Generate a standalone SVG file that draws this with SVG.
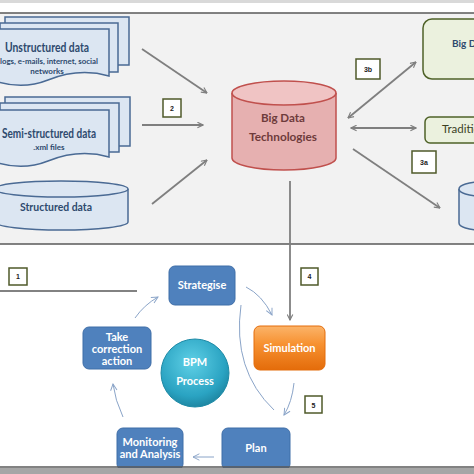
<svg xmlns="http://www.w3.org/2000/svg" width="474" height="474" viewBox="0 0 474 474">
<defs>
<style>
.t{font-family:Lato,"Liberation Sans",sans-serif;font-weight:bold;text-anchor:middle}
.doc{fill:#dce6f2;stroke:#4a6a94;stroke-width:1.5}
.lbl{fill:#ffffff;stroke:#4f5a2a;stroke-width:1.5}
.lt{font-family:"Liberation Sans",sans-serif;font-weight:bold;font-size:7px;text-anchor:middle;fill:#222}
.con{stroke:#7f7f7f;stroke-width:1.8;fill:none}
.cyc{stroke:#8aa4c8;stroke-width:1;fill:none}
.box{fill:#4f81bd;stroke:#3f6ea8;stroke-width:1}
.wt{fill:#ffffff;font-size:11px}
</style>
<marker id="ah" viewBox="0 0 10 10" refX="9" refY="5" markerWidth="7" markerHeight="7" orient="auto-start-reverse" markerUnits="userSpaceOnUse">
<path d="M1 1 L9 5 L1 9" fill="none" stroke="#7f7f7f" stroke-width="1.6"/>
</marker>
<marker id="bh" viewBox="0 0 10 10" refX="9" refY="5" markerWidth="8" markerHeight="8" orient="auto" markerUnits="userSpaceOnUse">
<path d="M1 1 L9 5 L1 9" fill="none" stroke="#8aa4c8" stroke-width="1.2"/>
</marker>
<linearGradient id="og" x1="0" y1="0" x2="0" y2="1">
<stop offset="0" stop-color="#fbb46a"/>
<stop offset="0.4" stop-color="#f79232"/>
<stop offset="1" stop-color="#e46c0a"/>
</linearGradient>
<radialGradient id="tg" cx="0.45" cy="0.35" r="0.7">
<stop offset="0" stop-color="#5fd0e6"/>
<stop offset="0.7" stop-color="#2aa3c2"/>
<stop offset="1" stop-color="#1b7f9a"/>
</radialGradient>
</defs>
<rect width="474" height="474" fill="#ffffff"/>
<rect x="0" y="0" width="474" height="3" fill="#d9d9d9"/>
<rect x="0" y="13" width="474" height="231" fill="#f2f2f2"/>
<line x1="0" y1="13" x2="474" y2="13" stroke="#595959" stroke-width="1.5"/>
<line x1="0" y1="244" x2="474" y2="244" stroke="#595959" stroke-width="1.5"/>

<g id="unstructured">
<rect class="doc" x="5" y="17" width="124" height="48"/>
<rect class="doc" x="0" y="23" width="118" height="49"/>
<path class="doc" d="M-5 29 H109 V76 C88 70 68 72 48 80 C28 88 10 86 -5 81 Z"/>
<text class="t" x="47" y="52" font-size="12.500" fill="#2e4a6e" textLength="84" lengthAdjust="spacingAndGlyphs">Unstructured data</text>
<text class="t" x="49" y="64" font-size="8" fill="#2e4a6e" font-weight="normal" textLength="98" lengthAdjust="spacingAndGlyphs">logs, e-mails, internet, social</text>
<text class="t" x="47" y="74" font-size="8" fill="#2e4a6e" font-weight="normal">networks</text>
</g>
<g id="semistructured">
<rect class="doc" x="5" y="97" width="125" height="49"/>
<rect class="doc" x="0" y="103" width="119" height="49"/>
<path class="doc" d="M-5 110 H109 V157 C88 151 68 153 48 161 C28 169 10 167 -5 162 Z"/>
<text class="t" x="49" y="138" font-size="12.500" fill="#2e4a6e" textLength="94" lengthAdjust="spacingAndGlyphs">Semi-structured data</text>
<text class="t" x="49" y="150" font-size="8" fill="#2e4a6e" font-weight="normal">.xml files</text>
</g>
<g id="structured">
<path class="doc" d="M-5 189 V222 A66 8 0 0 0 128 222 V189"/>
<ellipse class="doc" cx="61" cy="189" rx="67" ry="8"/>
<text class="t" x="56" y="211" font-size="12" fill="#2e4a6e" textLength="72" lengthAdjust="spacingAndGlyphs">Structured data</text>
</g>

<g id="bigdata">
<path d="M232 93 V158 A52 12 0 0 0 336 158 V93" fill="#e6b0b0" stroke="#c0504d" stroke-width="1.5"/>
<ellipse cx="284" cy="93" rx="52" ry="12" fill="#f0c4c4" stroke="#c0504d" stroke-width="1.5"/>
<text class="t" x="283" y="122" font-size="12" fill="#6e3b3b" textLength="44" lengthAdjust="spacingAndGlyphs">Big Data</text>
<text class="t" x="283" y="141" font-size="12" fill="#6e3b3b" textLength="68" lengthAdjust="spacingAndGlyphs">Technologies</text>
</g>

<g id="bigdbox">
<rect x="423" y="19" width="80" height="60" rx="9" fill="#ebf1de" stroke="#4f6228" stroke-width="1.5"/>
<text x="452" y="47" font-family="Lato,'Liberation Sans',sans-serif" font-weight="bold" font-size="10" fill="#2e4a6e">Big Data</text>
</g>
<g id="traditional">
<rect x="425" y="117" width="80" height="26" rx="5" fill="#ebf1de" stroke="#4f6228" stroke-width="1.5"/>
<text x="442" y="133" font-family="Lato,'Liberation Sans',sans-serif" font-size="11.500" fill="#3b3f1f">Traditional</text>
</g>
<g id="bluecyl">
<path d="M459 189 V223 A22 7 0 0 0 503 223 V189" fill="#dce6f2" stroke="#4a6a94" stroke-width="1.5"/>
<ellipse cx="481" cy="189" rx="22" ry="7" fill="#dce6f2" stroke="#4a6a94" stroke-width="1.5"/>
</g>

<g id="connectors">
<line class="con" x1="142" y1="49" x2="207" y2="93" marker-end="url(#ah)"/>
<line class="con" x1="142" y1="125" x2="203" y2="125" marker-end="url(#ah)"/>
<line class="con" x1="152" y1="204" x2="207" y2="160" marker-end="url(#ah)"/>
<line class="con" x1="348" y1="118" x2="416" y2="62" marker-start="url(#ah)" marker-end="url(#ah)"/>
<line class="con" x1="351" y1="128" x2="416" y2="128" marker-start="url(#ah)" marker-end="url(#ah)"/>
<line class="con" x1="353" y1="149" x2="440" y2="208" marker-end="url(#ah)"/>
<line class="con" x1="290" y1="181" x2="290" y2="320" marker-end="url(#ah)"/>
<line x1="0" y1="291" x2="137" y2="291" stroke="#595959" stroke-width="1.5"/>
<path class="cyc" d="M135 318 Q144 305 158 297" marker-end="url(#bh)"/>
<path class="cyc" d="M246 287 Q262 295 272 315" marker-end="url(#bh)"/>
<path class="cyc" d="M294 383 Q292 402 284 415" marker-end="url(#bh)"/>
<path class="cyc" d="M241 305 Q232 370 274 410"/>
<path class="cyc" d="M214 457 L193 457" marker-end="url(#bh)"/>
<path class="cyc" d="M123 417 Q115 400 113 384" marker-end="url(#bh)"/>
</g>

<g id="label2"><rect class="lbl" x="163" y="99" width="18" height="18"/><text class="lt" x="172" y="111">2</text></g>
<g id="label3b"><rect class="lbl" x="356" y="59" width="24" height="20"/><text class="lt" x="368" y="72">3b</text></g>
<g id="label3a"><rect class="lbl" x="412" y="151" width="24" height="22"/><text class="lt" x="424" y="165">3a</text></g>
<g id="label4"><rect class="lbl" x="301" y="268" width="17" height="17"/><text class="lt" x="309.500" y="279">4</text></g>
<g id="label5"><rect class="lbl" x="305" y="396" width="17" height="17"/><text class="lt" x="313.500" y="408">5</text></g>
<g id="label1"><rect class="lbl" x="9" y="268" width="18" height="17"/><text class="lt" x="18" y="279">1</text></g>

<g id="strategise"><rect class="box" x="169" y="266" width="66" height="39" rx="6"/><text class="t wt" x="202" y="289">Strategise</text></g>
<g id="simulation"><rect x="254" y="326" width="71" height="44" rx="6" fill="url(#og)" stroke="#e46c0a" stroke-width="1"/><text class="t wt" x="289.500" y="352">Simulation</text></g>
<g id="takecorrection"><rect class="box" x="83" y="327" width="68" height="42" rx="6"/><text class="t wt" x="117" y="341">Take</text><text class="t wt" x="117" y="353">correction</text><text class="t wt" x="117" y="365">action</text></g>
<g id="bpm"><circle cx="195" cy="373" r="34" fill="url(#tg)" stroke="#1e8aa6" stroke-width="1"/><text class="t wt" x="195" y="366">BPM</text><text class="t wt" x="195" y="385">Process</text></g>
<g id="monitoring"><rect class="box" x="117" y="428" width="66" height="42" rx="6"/><text class="t wt" x="150" y="446">Monitoring</text><text class="t wt" x="150" y="458">and Analysis</text></g>
<g id="plan"><rect class="box" x="222" y="428" width="68" height="42" rx="6"/><text class="t wt" x="256" y="452">Plan</text></g>
<rect x="0" y="468" width="474" height="6" fill="#a6a6a6"/>
<line x1="0" y1="467" x2="474" y2="467" stroke="#595959" stroke-width="1.5"/>
</svg>
